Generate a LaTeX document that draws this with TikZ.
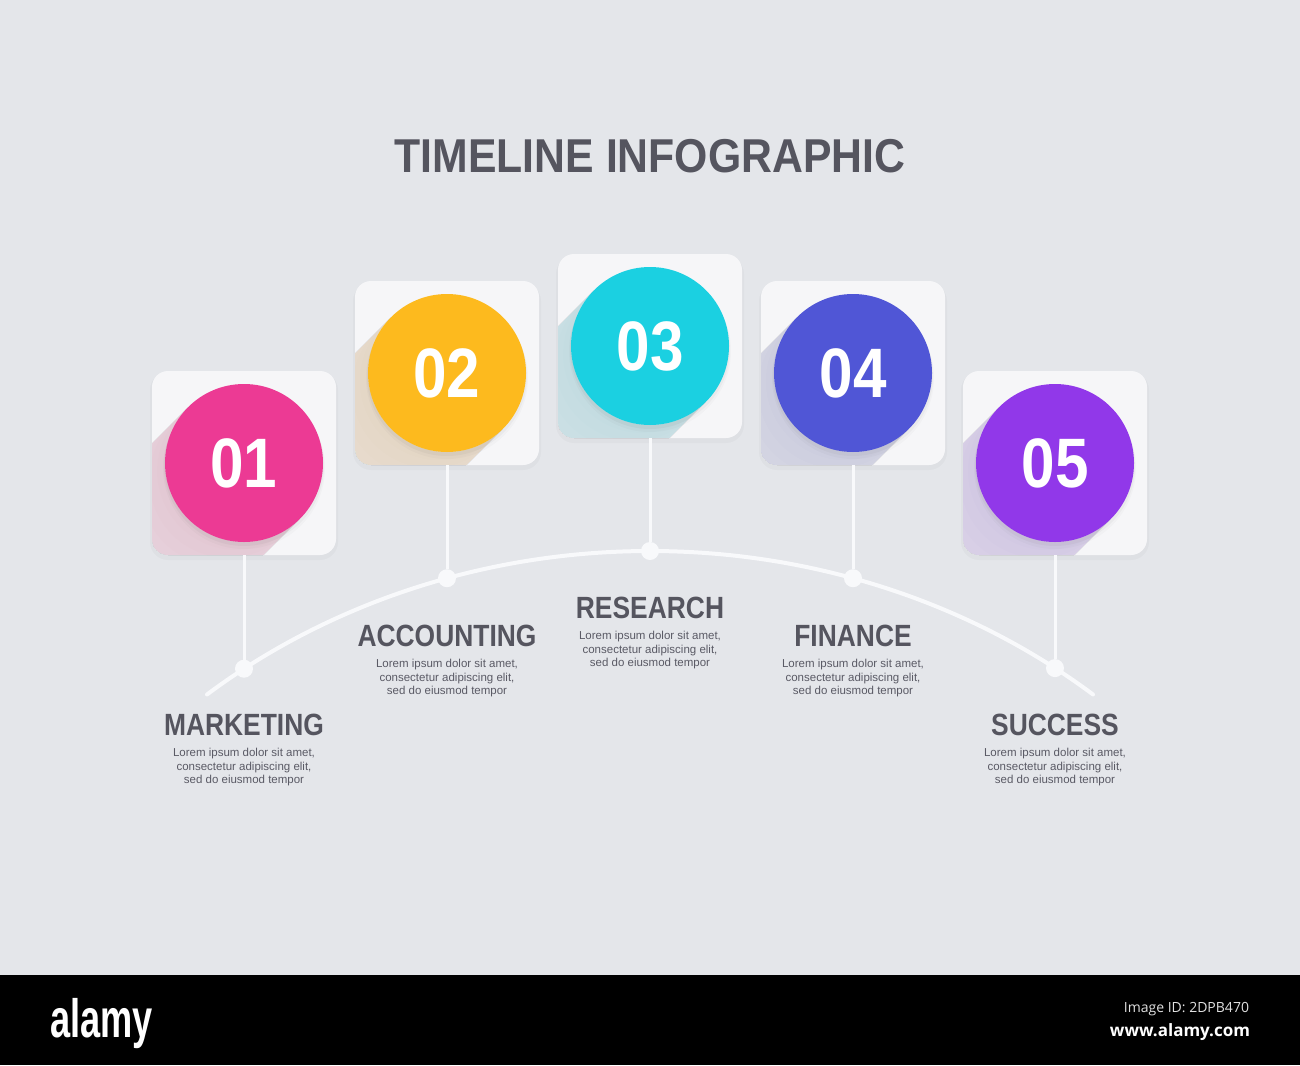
\documentclass[tikz,border=0pt]{standalone}
\usepackage{fontspec}
\setmainfont{Liberation Sans}
\newfontfamily\headfont[FakeStretch=0.86]{Liberation Sans}
\newfontfamily\titlefont[FakeStretch=0.9]{Liberation Sans}
\newfontfamily\logofont[FakeStretch=0.67]{Liberation Sans}
\newfontfamily\sitefont{Open Sans}
\definecolor{bgc}{HTML}{E4E6EA}
\definecolor{sqc}{HTML}{F6F6F8}
\definecolor{linec}{HTML}{F8F9FB}
\definecolor{headc}{HTML}{55555F}
\definecolor{bodyc}{HTML}{5A5A65}
\definecolor{pinkc}{HTML}{EC3A94}
\definecolor{yelc}{HTML}{FDBA1E}
\definecolor{cyanc}{HTML}{1BD0E1}
\definecolor{indc}{HTML}{5056D6}
\definecolor{purc}{HTML}{9138E9}
% long shadow: cx cy r d
\newcommand\longshade[4]{%
  \fill plot[domain=225:45,samples=30,variable=\t] ({#1-#4+#3*cos(\t)},{#2+#4+#3*sin(\t)})
   -- plot[domain=45:225,samples=30,variable=\t] ({#1+#3*cos(\t)},{#2+#3*sin(\t)}) -- cycle;}
% one timeline item: index, cx, cy, colour, number
\newcommand\tlitem[5]{%
  \node[sqbox] (s#1) at (#2,#3) {};
  \begin{scope}
    \clip[rounded corners=16] (s#1.south west) rectangle (s#1.north east);
    \begin{scope}[fill=#4!50!gray, opacity=0.014]
      \foreach \dd in {8,16,...,144} {\longshade{#2}{#3}{79}{\dd}}
    \end{scope}
  \end{scope}
  \fill[black, opacity=0.03] (#2,#3+3) circle (80);
  \fill[black, opacity=0.02] (#2,#3+5) circle (81);
  \node[numcircle, fill=#4] (c#1) at (#2,#3) {#5};
}
\begin{document}
\begin{tikzpicture}[x=1pt,y=-1pt,
  every node/.style={inner sep=0pt, outer sep=0pt},
  sqbox/.style={rectangle, rounded corners=16, minimum size=184, fill=sqc},
  numcircle/.style={circle, minimum size=158, text=white,
     font=\headfont\bfseries\fontsize{70}{70}\selectfont},
  dotc/.style={circle, minimum size=18, fill=linec},
  stem/.style={draw=linec, line width=3},
  headtext/.style={text=headc, font=\headfont\bfseries\fontsize{30.7}{32}\selectfont},
  bodytext/.style={text=bodyc, align=center, font=\fontsize{11.5}{13.7}\selectfont},
  titletext/.style={text=headc, font=\titlefont\bfseries\fontsize{47.5}{50}\selectfont}]
\useasboundingbox (0,0) rectangle (1300,1065);
\fill[bgc] (0,0) rectangle (1300,975);
\fill[black] (0,975) rectangle (1300,1065);

% title
\node[titletext, anchor=base] (title) at (650,172) {TIMELINE INFOGRAPHIC};

% timeline arc
\draw[linec, line width=4, line cap=round] plot[domain=207:1093, samples=150]
  ({\x},{551+615*(1-sqrt(1-((\x-650)/690)^2))});

% dots on the arc
\node[dotc] (d1) at (244,668.7) {};
\node[dotc] (d2) at (447,578.2) {};
\node[dotc] (d3) at (650,551) {};
\node[dotc] (d4) at (853,578.2) {};
\node[dotc] (d5) at (1055,668.1) {};

% soft square shadows
\fill[black, opacity=0.025, rounded corners=18] (150,372) rectangle (338,560);
\fill[black, opacity=0.025, rounded corners=18] (353,283) rectangle (541,470);
\fill[black, opacity=0.025, rounded corners=18] (556,256) rectangle (744,443);
\fill[black, opacity=0.025, rounded corners=18] (759,283) rectangle (947,470);
\fill[black, opacity=0.025, rounded corners=18] (961,372) rectangle (1149,560);
% squares, long shadows, circles
\tlitem{1}{244}{463}{pinkc}{01}
\tlitem{2}{447}{373}{yelc}{02}
\tlitem{3}{650}{346}{cyanc}{03}
\tlitem{4}{853}{373}{indc}{04}
\tlitem{5}{1055}{463}{purc}{05}

% stems
\draw[stem] (s1.south) -- (d1);
\draw[stem] (s2.south) -- (d2);
\draw[stem] (s3.south) -- (d3);
\draw[stem] (s4.south) -- (d4);
\draw[stem] (s5.south) -- (d5);

% labels
\node[headtext, anchor=base] (h1) at (244,735) {MARKETING};
\node[bodytext, anchor=north] (b1) at (244,748) {Lorem ipsum dolor sit amet,\\consectetur adipiscing elit,\\sed do eiusmod tempor};
\node[headtext, anchor=base] (h2) at (447,646) {ACCOUNTING};
\node[bodytext, anchor=north] (b2) at (447,659) {Lorem ipsum dolor sit amet,\\consectetur adipiscing elit,\\sed do eiusmod tempor};
\node[headtext, anchor=base] (h3) at (650,618) {RESEARCH};
\node[bodytext, anchor=north] (b3) at (650,631) {Lorem ipsum dolor sit amet,\\consectetur adipiscing elit,\\sed do eiusmod tempor};
\node[headtext, anchor=base] (h4) at (853,646) {FINANCE};
\node[bodytext, anchor=north] (b4) at (853,659) {Lorem ipsum dolor sit amet,\\consectetur adipiscing elit,\\sed do eiusmod tempor};
\node[headtext, anchor=base] (h5) at (1055,735) {SUCCESS};
\node[bodytext, anchor=north] (b5) at (1055,748) {Lorem ipsum dolor sit amet,\\consectetur adipiscing elit,\\sed do eiusmod tempor};

% footer band
\node[anchor=base west, text=white, font=\logofont\bfseries\fontsize{54}{54}\selectfont] (logo) at (50,1037) {alamy};
\node[anchor=base east, text=white!88!black, font=\sitefont\fontsize{14}{14}\selectfont] (imgid) at (1249,1012) {Image ID: 2DPB470};
\node[anchor=base east, text=white, font=\sitefont\bfseries\fontsize{17}{17}\selectfont] (site) at (1250,1036) {www.alamy.com};
\end{tikzpicture}
\end{document}
